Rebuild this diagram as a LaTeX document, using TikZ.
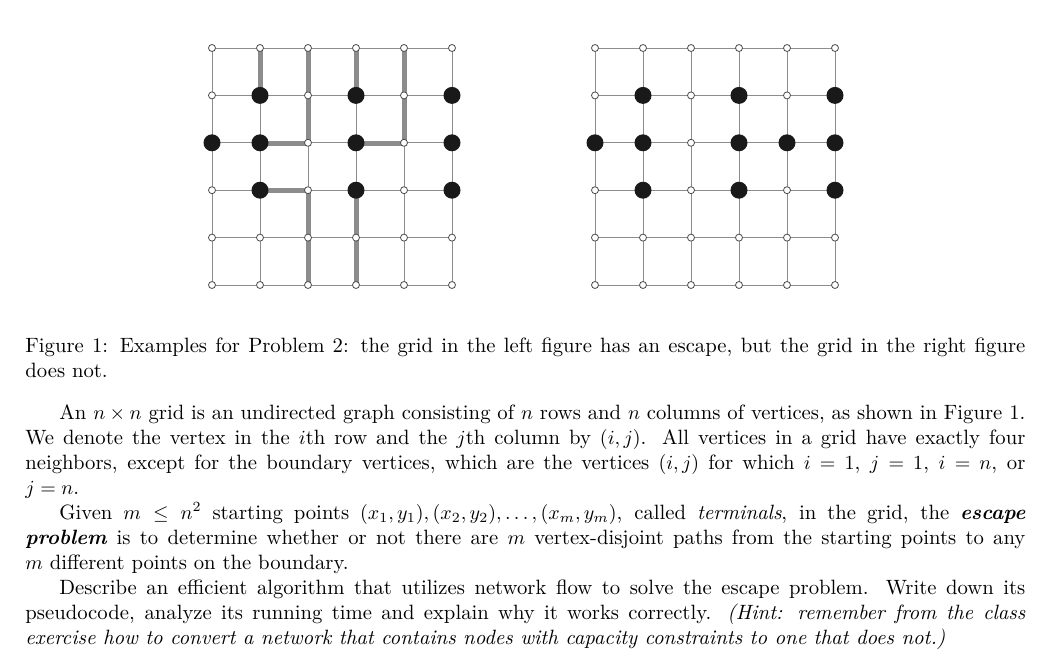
\documentclass[tikz,border=0pt]{standalone}
\usepackage{amsmath}
\begin{document}
\begin{tikzpicture}[x=0.5pt,y=-0.5pt,
  gl/.style={draw=black!45,line width=0.5pt},
  esc/.style={draw=black!45,line width=2.5pt},
  ov/.style={circle,draw=black!70,fill=white,inner sep=0pt,minimum size=3.5pt,line width=0.4pt},
  tv/.style={circle,fill=black!90,inner sep=0pt,minimum size=8.5pt},
  txt/.style={anchor=north west,text width=500pt,align=justify,inner sep=0pt,font=\fontsize{10.35}{12.5}\selectfont}]
\useasboundingbox (0,0) rectangle (1045,664);
% grids
\foreach \ox/\g in {212/L,595/R}{
  \foreach \i in {0,...,5}{
    \draw[gl] (\ox,48+47.4*\i) -- (\ox+240,48+47.4*\i);
    \draw[gl] (\ox+48*\i,48) -- (\ox+48*\i,285);
  }
}
% escape paths (left)
\draw[esc] (260,96) -- (260,48);
\draw[esc] (260,143) -- (308,143) -- (308,48);
\draw[esc] (260,190) -- (308,190) -- (308,285);
\draw[esc] (356,96) -- (356,48);
\draw[esc] (356,143) -- (404,143) -- (404,48);
\draw[esc] (356,190) -- (356,285);
\foreach \ox/\g in {212/L,595/R}{
  \foreach \i in {0,...,5}{
    \foreach \j in {0,...,5}{
      \node[ov] (\g\i\j) at (\ox+48*\i,48+47.4*\j) {};
    }
  }
}
% terminals left
\foreach \i/\j in {1/1,3/1,5/1,0/2,1/2,3/2,5/2,1/3,3/3,5/3}
  \node[tv] (tL\i\j) at (L\i\j) {};
% terminals right
\foreach \i/\j in {1/1,3/1,5/1,0/2,1/2,3/2,4/2,5/2,1/3,3/3,5/3}
  \node[tv] (tR\i\j) at (R\i\j) {};
\node[txt] (cap) at (25,338) {Figure 1: Examples for Problem 2: the grid in the left figure has an escape, but the grid in the right figure\linebreak does not.};
\node[txt] (body) at (25,404) {\setlength{\parindent}{17pt}\setlength{\parskip}{0pt}\emergencystretch=2em\indent An $n\times n$ grid is an undirected graph consisting of $n$ rows and $n$ columns of vertices, as shown in Figure~1.\linebreak We denote the vertex in the $i$th row and the $j$th column by $(i,j)$. All vertices in a grid have exactly four\linebreak neighbors, except for the boundary vertices, which are the vertices $(i,j)$ for which $i=1$, $j=1$, $i=n$, or\linebreak $j=n$.\par
Given $m\le n^2$ starting points $(x_1,y_1),(x_2,y_2),\ldots,(x_m,y_m)$, called \emph{terminals}, in the grid, the \textbf{\textit{escape}}\linebreak \textbf{\textit{problem}} is to determine whether or not there are $m$ vertex-disjoint paths from the starting points to any\linebreak $m$ different points on the boundary.\par
Describe an efficient algorithm that utilizes network flow to solve the escape problem. Write down its\linebreak pseudocode, analyze its running time and explain why it works correctly. \emph{(Hint: remember from the class\linebreak exercise how to convert a network that contains nodes with capacity constraints to one that does not.)}};
\end{tikzpicture}
\end{document}
